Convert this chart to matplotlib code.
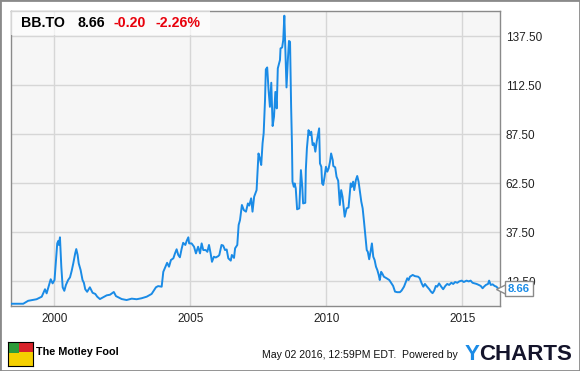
import matplotlib
matplotlib.use("Agg")
import matplotlib.pyplot as plt
from matplotlib.patches import Rectangle
from matplotlib.transforms import offset_copy

plt.rcParams['font.family'] = ['Liberation Sans', 'DejaVu Sans']

# BB.TO weekly-ish closes (decimal year, price CAD)
dates = [1998.41, 1998.86, 1999.04, 1999.35, 1999.54, 1999.66, 1999.72, 1999.87, 1999.94, 2000.01,
         2000.11, 2000.15, 2000.17, 2000.21, 2000.26, 2000.31, 2000.37, 2000.43, 2000.51, 2000.58,
         2000.64, 2000.70, 2000.77, 2000.81, 2000.86, 2000.90, 2000.97, 2001.04, 2001.09, 2001.14,
         2001.21, 2001.31, 2001.41, 2001.51, 2001.58, 2001.68, 2001.80, 2001.93, 2002.05, 2002.19,
         2002.27, 2002.48, 2002.66, 2002.85, 2003.03, 2003.21, 2003.40, 2003.58, 2003.74, 2003.82,
         2003.95, 2004.01, 2004.10, 2004.15, 2004.22, 2004.29, 2004.38, 2004.44, 2004.50, 2004.56,
         2004.62, 2004.68, 2004.74, 2004.82, 2004.87, 2004.93, 2004.96, 2005.05, 2005.14, 2005.21,
         2005.29, 2005.36, 2005.42, 2005.48, 2005.57, 2005.63, 2005.69, 2005.75, 2005.80, 2005.87,
         2005.94, 2006.03, 2006.07, 2006.15, 2006.21, 2006.28, 2006.34, 2006.40, 2006.49, 2006.53,
         2006.61, 2006.65, 2006.73, 2006.78, 2006.83, 2006.90, 2006.97, 2007.05, 2007.12, 2007.17,
         2007.24, 2007.29, 2007.35, 2007.44, 2007.51, 2007.56, 2007.61, 2007.66, 2007.70, 2007.75,
         2007.78, 2007.83, 2007.88, 2007.93, 2007.98, 2008.03, 2008.08, 2008.13, 2008.18, 2008.22,
         2008.30, 2008.32, 2008.38, 2008.42, 2008.46, 2008.49, 2008.54, 2008.59, 2008.63, 2008.67,
         2008.71, 2008.74, 2008.76, 2008.81, 2008.84, 2008.88, 2008.93, 2009.01, 2009.07, 2009.12,
         2009.15, 2009.23, 2009.25, 2009.29, 2009.35, 2009.40, 2009.45, 2009.50, 2009.55, 2009.60,
         2009.65, 2009.74, 2009.77, 2009.82, 2009.85, 2009.89, 2009.94, 2009.99, 2010.04, 2010.09,
         2010.14, 2010.18, 2010.24, 2010.26, 2010.33, 2010.38, 2010.44, 2010.50, 2010.55, 2010.60,
         2010.68, 2010.75, 2010.82, 2010.90, 2010.94, 2010.99, 2011.03, 2011.09, 2011.14, 2011.19,
         2011.24, 2011.29, 2011.34, 2011.39, 2011.43, 2011.49, 2011.53, 2011.58, 2011.63, 2011.68,
         2011.73, 2011.78, 2011.83, 2011.88, 2011.93, 2011.97, 2012.02, 2012.07, 2012.12, 2012.22,
         2012.32, 2012.40, 2012.46, 2012.53, 2012.61, 2012.71, 2012.77, 2012.86, 2012.93, 2012.98,
         2013.03, 2013.08, 2013.18, 2013.26, 2013.38, 2013.44, 2013.51, 2013.57, 2013.63, 2013.71,
         2013.79, 2013.85, 2013.91, 2013.97, 2014.03, 2014.08, 2014.15, 2014.23, 2014.30, 2014.38,
         2014.45, 2014.52, 2014.60, 2014.67, 2014.74, 2014.82, 2014.89, 2014.98, 2015.06, 2015.16,
         2015.24, 2015.31, 2015.38, 2015.46, 2015.53, 2015.61, 2015.68, 2015.75, 2015.80, 2015.87,
         2015.95, 2015.99, 2016.05, 2016.12, 2016.19, 2016.26, 2016.32]
price = [0.9, 0.9, 2.4, 3.2, 4.5, 8.3, 6.2, 13.4, 11.3, 13.0,
         31.7, 33.0, 30.9, 34.8, 19.8, 9.3, 7.5, 10.5, 13.0, 14.4,
         17.6, 21.5, 26.6, 28.8, 25.8, 21.5, 18.1, 13.0, 11.6, 8.3,
         7.0, 9.3, 6.5, 5.9, 4.5, 3.3, 4.2, 5.2, 5.5, 6.9,
         4.8, 3.3, 2.8, 3.5, 3.2, 3.7, 4.5, 5.9, 9.3, 9.9,
         9.6, 17.2, 20.1, 21.8, 19.8, 23.2, 24.1, 26.6, 28.7, 25.8,
         24.6, 28.7, 32.0, 30.9, 33.0, 34.8, 31.7, 31.7, 30.0, 26.6,
         30.0, 26.6, 31.7, 28.3, 28.3, 27.4, 30.9, 26.6, 22.3, 24.9,
         24.5, 25.2, 25.8, 30.9, 30.6, 28.3, 28.6, 24.1, 22.9, 25.8,
         24.3, 29.2, 30.9, 41.1, 43.6, 51.3, 48.7, 47.9, 52.1, 51.0,
         54.7, 47.9, 55.5, 58.9, 77.6, 75.1, 71.7, 82.8, 87.9, 104.8,
         120.5, 121.5, 110.0, 101.4, 113.7, 91.6, 96.3, 109.0, 100.6, 121.0,
         125.3, 131.2, 131.7, 135.5, 147.9, 133.8, 111.3, 125.3, 135.0, 134.6,
         101.4, 82.8, 63.2, 60.6, 62.3, 59.8, 49.1, 49.6, 69.1, 60.6,
         52.1, 52.4, 69.1, 80.2, 89.5, 87.0, 88.7, 81.9, 82.8, 78.5,
         83.6, 90.4, 72.5, 70.8, 62.3, 61.5, 65.7, 70.8, 68.3, 70.0,
         73.4, 77.6, 74.2, 71.2, 70.5, 65.7, 63.7, 51.3, 58.9, 55.5,
         45.3, 49.6, 50.0, 62.3, 60.6, 63.2, 58.9, 64.0, 66.1, 63.2,
         58.1, 53.0, 49.6, 42.8, 36.8, 28.3, 27.4, 23.6, 27.4, 31.7,
         24.9, 23.2, 19.8, 18.1, 15.6, 13.0, 17.2, 16.1, 14.7, 13.9,
         13.0, 11.3, 10.0, 7.1, 6.8, 6.8, 7.6, 9.6, 12.2, 13.9,
         13.0, 14.7, 15.6, 15.0, 14.7, 13.9, 11.3, 9.6, 11.0, 9.6,
         8.3, 7.1, 6.3, 7.6, 10.0, 9.6, 11.3, 9.6, 8.3, 10.0,
         11.0, 10.5, 11.6, 11.0, 12.0, 11.6, 12.3, 12.7, 12.0, 12.7,
         12.3, 12.7, 11.6, 11.3, 11.0, 10.5, 10.0, 8.8, 9.6, 10.5,
         11.0, 12.7, 10.5, 10.8, 10.0, 9.6, 8.66]

yticks = [12.5, 37.5, 62.5, 87.5, 112.5, 137.5]
xticks = [2000, 2005, 2010, 2015]
header = [("BB.TO", "black"), ("8.66", "black"), ("-0.20", "#e8000b"), ("-2.26%", "#e8000b")]
header_x = [21, 77, 114, 155]

blue = "#1a8be6"
grey = "#8a8a8a"

fig = plt.figure(figsize=(5.8, 3.71), dpi=100)
ax = fig.add_axes([11/580, 65/371, 489/580, 295/371])
ax.set_facecolor("#f6f6f6")

ax.plot(dates, price, color=blue, lw=1.4, zorder=3)

ax.set_xlim(1998.41, 2016.39)
ax.set_ylim(-0.25, 150.3)
ax.set_xticks(xticks)
ax.set_xticklabels([str(t) for t in xticks])
ax.set_yticks(yticks)
ax.set_yticklabels(["%.2f" % t for t in yticks])
ax.yaxis.tick_right()
ax.tick_params(axis="both", length=0, labelsize=8.5, colors="#222222")
ax.tick_params(axis="y", pad=4)
ax.tick_params(axis="x", pad=5)
ax.grid(True, color="#d6d6d6", lw=1)
ax.set_axisbelow(True)
for s in ax.spines.values():
    s.set_color(grey)
    s.set_linewidth(1)

# header box with ticker
ax.add_patch(Rectangle((0, 0.919), 0.407, 0.081, transform=ax.transAxes,
                       fc="white", ec="none", alpha=0.65, zorder=4))
for (txt, col), xp in zip(header, header_x):
    fig.text(xp/580, 1 - 23/371, txt, color=col, fontsize=10.2, fontweight="bold",
             ha="left", va="center")

# last value label
trans = offset_copy(ax.transData, fig=fig, x=4, y=0, units="dots")
ax.plot(dates[-1], price[-1], marker="<", ms=8, mfc="white", mec=grey, mew=1,
        transform=trans, clip_on=False, zorder=9)
ax.annotate("%.2f" % price[-1], xy=(dates[-1], price[-1]), xytext=(10, 0),
            textcoords="offset pixels", ha="left", va="center", color=blue,
            fontsize=8.2, fontweight="bold", annotation_clip=False, zorder=10,
            bbox=dict(boxstyle="square,pad=0.25", fc="white", ec=grey, lw=1))

# footer
logo = fig.add_axes([8/580, 5/371, 25/580, 24/371])
logo.set_xticks([])
logo.set_yticks([])
logo.set_facecolor("#f5d000")
logo.add_patch(Rectangle((0, 0.55), 0.45, 0.45, fc="#2e9b3a", ec="none"))
logo.add_patch(Rectangle((0.45, 0.6), 0.55, 0.4, fc="#d8232a", ec="none"))
for s in logo.spines.values():
    s.set_color("black")
fig.text(36/580, 1 - 352/371, "The Motley Fool", fontsize=7.8, fontweight="bold",
         ha="left", va="center", color="black")
fig.text(458/580, 1 - 355/371, "May 02 2016, 12:59PM EDT.  Powered by", fontsize=7.6,
         ha="right", va="center", color="#111111")
fig.text(465/580, 1 - 354/371, "Y", fontsize=16, fontweight="bold", color="#1a8be6",
         ha="left", va="center")
fig.text(479/580, 1 - 354/371, "CHARTS", fontsize=16, fontweight="bold", color="#14142b",
         ha="left", va="center")

fig.patches.append(Rectangle((0, 0), 1, 1, transform=fig.transFigure, fill=False,
                             ec=grey, lw=2))

fig.savefig("out.png", dpi=100)
